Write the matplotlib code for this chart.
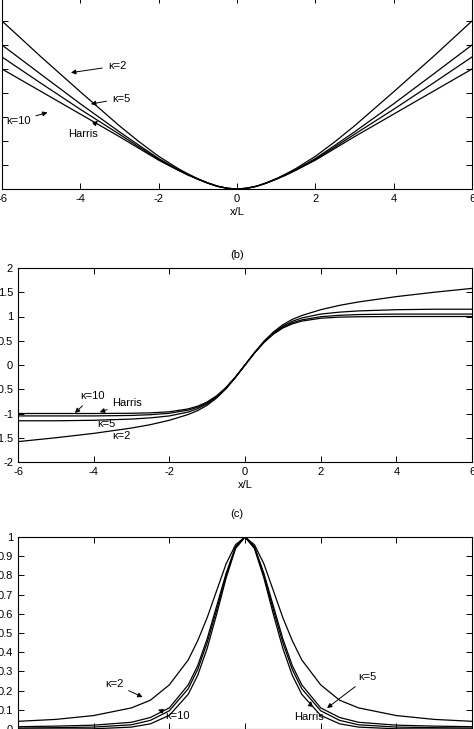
import matplotlib
matplotlib.use("Agg")
import matplotlib.pyplot as plt
import numpy as np

plt.rcParams["font.family"] = ["Liberation Sans", "DejaVu Sans"]
plt.rcParams["font.size"] = 8
plt.rcParams["axes.unicode_minus"] = False

# half-axis sample points (curves are symmetric / antisymmetric in x)
xh = [0, 0.25, 0.5, 0.75, 1, 1.25, 1.5, 2, 2.5, 3, 4, 5, 6]

# (a) potential-like curves
a_harris = [0, 0.029, 0.113, 0.245, 0.406, 0.58, 0.78, 1.2, 1.69, 2.18, 3.12, 4.06, 5.0]
a_k10 = [0, 0.03, 0.114, 0.248, 0.41, 0.59, 0.79, 1.23, 1.75, 2.28, 3.32, 4.4, 5.5]
a_k5 = [0, 0.03, 0.115, 0.25, 0.415, 0.6, 0.8, 1.27, 1.82, 2.38, 3.55, 4.77, 6.0]
a_k2 = [0, 0.031, 0.12, 0.26, 0.43, 0.63, 0.85, 1.36, 1.97, 2.63, 4.05, 5.5, 7.0]

# (b) field-like curves (antisymmetric)
b_harris = [0, 0.245, 0.462, 0.635, 0.762, 0.848, 0.905, 0.964, 0.987, 0.995, 1, 1, 1]
b_k10 = [0, 0.25, 0.47, 0.65, 0.78, 0.87, 0.93, 0.995, 1.025, 1.04, 1.05, 1.05, 1.05]
b_k5 = [0, 0.25, 0.475, 0.66, 0.8, 0.9, 0.97, 1.05, 1.09, 1.115, 1.14, 1.15, 1.15]
b_k2 = [0, 0.255, 0.49, 0.68, 0.83, 0.94, 1.02, 1.14, 1.23, 1.3, 1.41, 1.5, 1.58]

# (c) density-like curves (symmetric)
c_harris = [1, 0.94, 0.786, 0.597, 0.42, 0.28, 0.181, 0.071, 0.027, 0.01, 0.001, 0, 0]
c_k10 = [1, 0.945, 0.8, 0.62, 0.45, 0.31, 0.21, 0.095, 0.045, 0.022, 0.01, 0.007, 0.005]
c_k5 = [1, 0.95, 0.81, 0.64, 0.47, 0.33, 0.23, 0.11, 0.06, 0.035, 0.02, 0.015, 0.012]
c_k2 = [1, 0.96, 0.86, 0.72, 0.58, 0.46, 0.36, 0.23, 0.15, 0.11, 0.07, 0.05, 0.04]


def full(y, odd=False):
    x = np.array(xh)
    y = np.array(y)
    s = -1 if odd else 1
    return np.concatenate([-x[:0:-1], x]), np.concatenate([s * y[:0:-1], y])


W, H = 474, 729
fig = plt.figure(figsize=(W / 100, H / 100), dpi=100)


def box(l, t, r, b):
    return [l / W, 1 - b / H, (r - l) / W, (b - t) / H]


ax1 = fig.add_axes(box(2, -3, 472, 189))
ax2 = fig.add_axes(box(18, 268, 472, 462))
ax3 = fig.add_axes(box(18, 537, 472, 729))

for ys, odd, ax in [((a_harris, a_k10, a_k5, a_k2), False, ax1),
                    ((b_harris, b_k10, b_k5, b_k2), True, ax2),
                    ((c_harris, c_k10, c_k5, c_k2), False, ax3)]:
    for y in ys:
        ax.plot(*full(y, odd), color="black", lw=0.9)
    ax.set_xlim(-6, 6)
    ax.set_xticks([-6, -4, -2, 0, 2, 4, 6])
    ax.tick_params(direction="in", top=True, right=True, length=4, width=0.7)

ax1.set_ylim(0, 8)
ax1.set_yticks(range(9))
ax1.set_yticklabels([])
ax1.set_xlabel("x/L", labelpad=2)
ax2.set_ylim(-2, 2)
ax2.set_yticks(np.arange(-2, 2.01, 0.5))
ax2.set_yticklabels(["-2", "-1.5", "-1", "-0.5", "0", "0.5", "1", "1.5", "2"])
ax2.set_xlabel("x/L", labelpad=2)
ax3.set_ylim(0, 1)
ax3.set_yticks(np.arange(0, 1.01, 0.1))
ax3.set_yticklabels(["0", "0.1", "0.2", "0.3", "0.4", "0.5", "0.6", "0.7", "0.8", "0.9", "1"])

fig.text(237 / W, 1 - 255 / H, "(b)", ha="center", va="center")
fig.text(237 / W, 1 - 514 / H, "(c)", ha="center", va="center")

arr = dict(arrowstyle="-|>", color="black", lw=0.7, mutation_scale=7)
ax1.annotate("κ=2", (-4.31, 4.83), (-3.3, 5.13), arrowprops=arr, va="center")
ax1.annotate("κ=5", (-3.8, 3.52), (-3.19, 3.77), arrowprops=arr, va="center")
ax1.annotate("κ=10", (-4.77, 3.22), (-5.9, 2.84), arrowprops=arr, va="center")
ax1.annotate("Harris", (-3.5, 2.92), (-4.3, 2.29), arrowprops=arr, va="center")

ax2.annotate("κ=10", (-4.55, -1.03), (-4.35, -0.64), arrowprops=arr, va="center")
ax2.annotate("Harris", (-3.91, -0.99), (-3.5, -0.78), arrowprops=arr, va="center")
ax2.text(-3.9, -1.22, "κ=5", va="center")
ax2.text(-3.5, -1.46, "κ=2", va="center")

ax3.annotate("κ=2", (-2.64, 0.16), (-3.7, 0.235), arrowprops=arr, va="center")
ax3.annotate("κ=10", (-2.3, 0.1), (-2.1, 0.07), arrowprops=arr, va="center")
ax3.annotate("Harris", (1.75, 0.16), (1.3, 0.065), arrowprops=arr, va="center")
ax3.annotate("κ=5", (2.11, 0.1), (3.0, 0.27), arrowprops=arr, va="center")

fig.savefig("out.png", dpi=100)
